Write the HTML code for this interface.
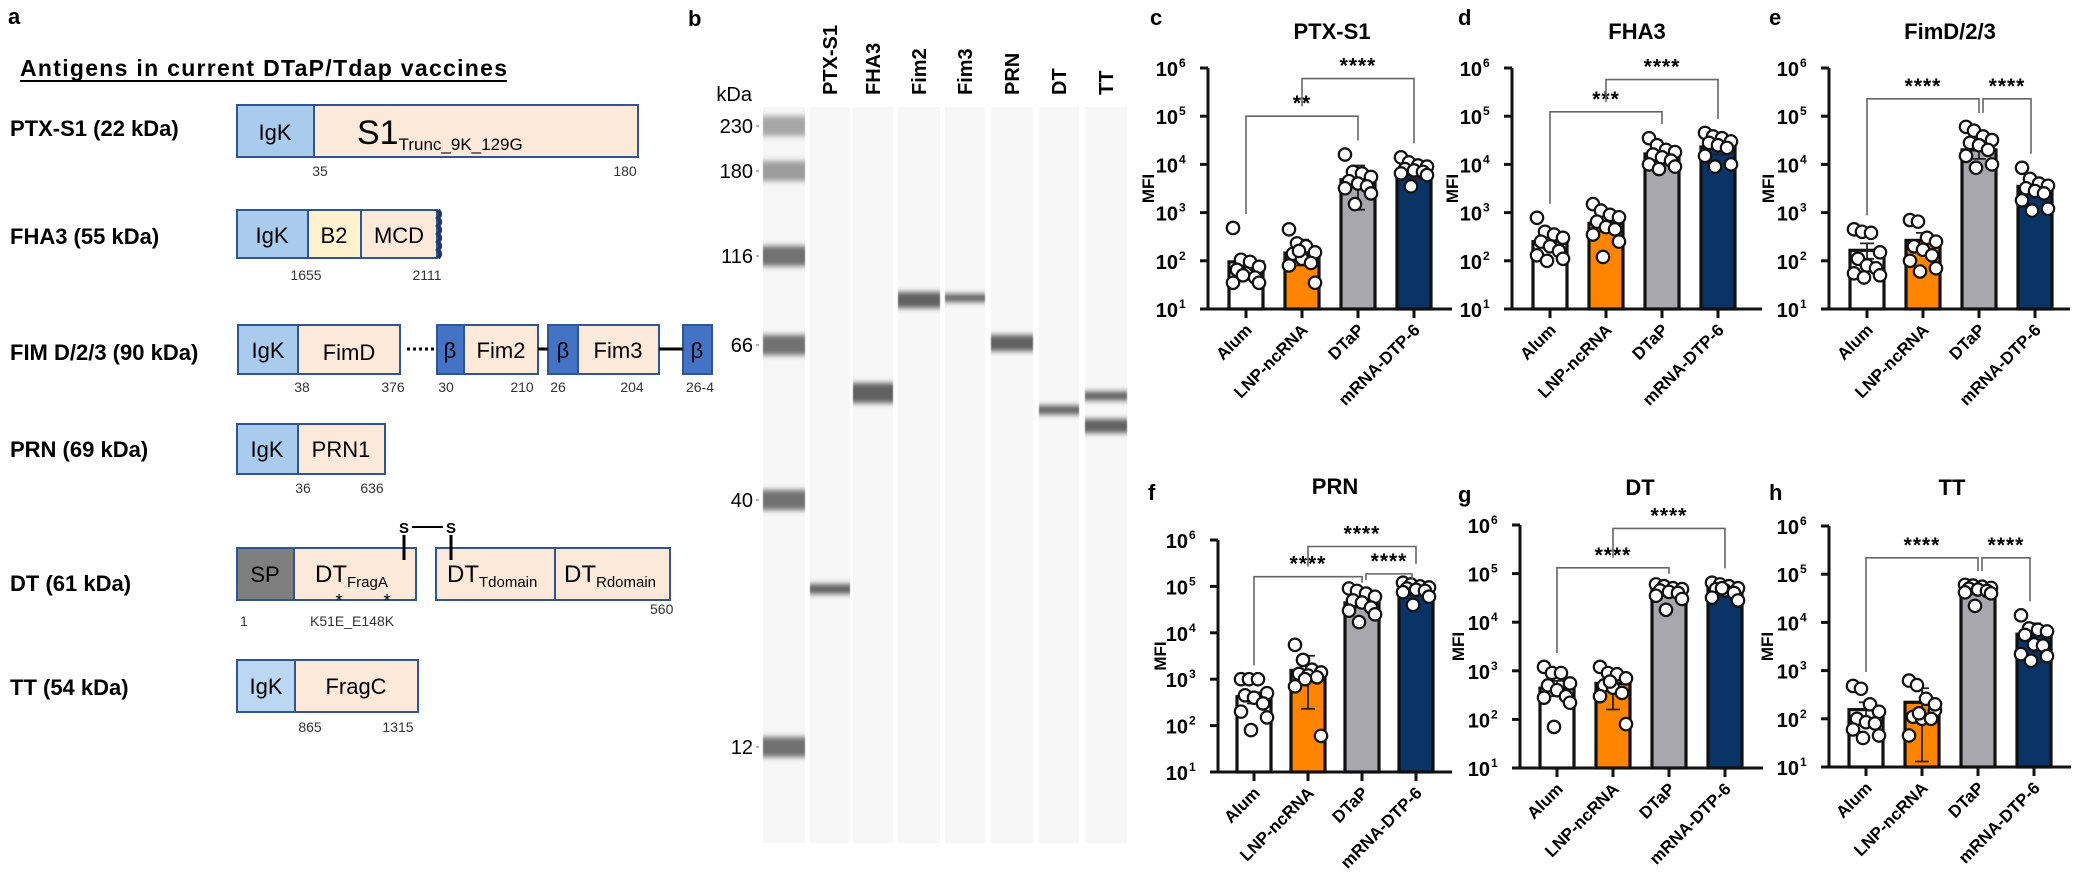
<!DOCTYPE html>
<html><head><meta charset="utf-8">
<style>
html,body{margin:0;padding:0;background:#fff;}
svg{display:block;font-family:"Liberation Sans",Arial,sans-serif;}
</style></head>
<body>
<svg id="fig" width="2075" height="880" viewBox="0 0 2075 880" xmlns="http://www.w3.org/2000/svg">
<defs>
<filter id="blur" x="-10%" y="-100%" width="120%" height="300%"><feGaussianBlur stdDeviation="0.6 2.6"/></filter>
</defs>

<!-- ================= PANEL A ================= -->
<g font-size="22">
<text x="8" y="24" font-weight="bold" font-size="22">a</text>
<text x="20" y="76" font-weight="bold" font-size="23" textLength="487">Antigens in current DTaP/Tdap vaccines</text>
<line x1="20" y1="81" x2="507" y2="81" stroke="#000" stroke-width="2"/>

<text x="10" y="136" font-weight="bold">PTX-S1 (22 kDa)</text>
<text x="10" y="244" font-weight="bold">FHA3 (55 kDa)</text>
<text x="10" y="360" font-weight="bold">FIM D/2/3 (90 kDa)</text>
<text x="10" y="457" font-weight="bold">PRN (69 kDa)</text>
<text x="10" y="591" font-weight="bold">DT (61 kDa)</text>
<text x="10" y="695" font-weight="bold">TT (54 kDa)</text>

<g stroke="#2f5597" stroke-width="2">
<rect x="237" y="105" width="77" height="52" fill="#a9cbee"/>
<rect x="314" y="105" width="324" height="52" fill="#fde9d9"/>
</g>
<text x="275" y="140" text-anchor="middle" font-size="22">IgK</text>
<text x="357" y="144" font-size="34">S1<tspan font-size="17" dy="6">Trunc_9K_129G</tspan></text>
<text x="320" y="176" font-size="14" fill="#333" text-anchor="middle">35</text>
<text x="625" y="176" font-size="14" fill="#333" text-anchor="middle">180</text>

<g stroke="#2f5597" stroke-width="2">
<rect x="237" y="210" width="71" height="48" fill="#a9cbee"/>
<rect x="308" y="210" width="53" height="48" fill="#fff2cc"/>
<rect x="361" y="210" width="76" height="48" fill="#fde9d9"/>
</g>
<path d="M438 210 q4 4 0 8 q4 4 0 8 q4 4 0 8 q4 4 0 8 q4 4 0 8 q4 4 0 8" stroke="#1f3864" stroke-width="4" fill="none"/>
<text x="272" y="243" text-anchor="middle">IgK</text>
<text x="334" y="243" text-anchor="middle">B2</text>
<text x="399" y="243" text-anchor="middle">MCD</text>
<text x="306" y="280" font-size="14" fill="#333" text-anchor="middle">1655</text>
<text x="427" y="280" font-size="14" fill="#333" text-anchor="middle">2111</text>

<g stroke="#2f5597" stroke-width="2">
<rect x="238" y="325" width="60" height="49" fill="#a9cbee"/>
<rect x="298" y="325" width="102" height="49" fill="#fde9d9"/>
<rect x="437" y="325" width="27" height="49" fill="#4472c4"/>
<rect x="464" y="325" width="74" height="49" fill="#fde9d9"/>
<rect x="548" y="325" width="30" height="49" fill="#4472c4"/>
<rect x="578" y="325" width="81" height="49" fill="#fde9d9"/>
<rect x="683" y="325" width="29" height="49" fill="#4472c4"/>
</g>
<line x1="407" y1="349" x2="436" y2="349" stroke="#000" stroke-width="3" stroke-dasharray="3 3"/>
<line x1="538" y1="349" x2="548" y2="349" stroke="#000" stroke-width="3"/>
<line x1="659" y1="349" x2="683" y2="349" stroke="#000" stroke-width="3"/>
<text x="268" y="358" text-anchor="middle">IgK</text>
<text x="349" y="360" text-anchor="middle">FimD</text>
<text x="450" y="358" text-anchor="middle">β</text>
<text x="501" y="358" text-anchor="middle">Fim2</text>
<text x="563" y="358" text-anchor="middle">β</text>
<text x="618" y="358" text-anchor="middle">Fim3</text>
<text x="697" y="358" text-anchor="middle">β</text>
<g font-size="14" fill="#333" text-anchor="middle">
<text x="302" y="392">38</text><text x="393" y="392">376</text><text x="446" y="392">30</text>
<text x="522" y="392">210</text><text x="558" y="392">26</text><text x="632" y="392">204</text><text x="700" y="392">26-4</text>
</g>

<g stroke="#2f5597" stroke-width="2">
<rect x="237" y="424" width="61" height="50" fill="#a9cbee"/>
<rect x="298" y="424" width="87" height="50" fill="#fde9d9"/>
</g>
<text x="267" y="457" text-anchor="middle">IgK</text>
<text x="341" y="457" text-anchor="middle">PRN1</text>
<text x="303" y="493" font-size="14" fill="#333" text-anchor="middle">36</text>
<text x="372" y="493" font-size="14" fill="#333" text-anchor="middle">636</text>

<g stroke="#2f5597" stroke-width="2">
<rect x="237" y="548" width="57" height="52" fill="#7f7f7f"/>
<rect x="294" y="548" width="122" height="52" fill="#fde9d9"/>
<rect x="436" y="548" width="119" height="52" fill="#fde9d9"/>
<rect x="555" y="548" width="115" height="52" fill="#fde9d9"/>
</g>
<text x="265" y="582" text-anchor="middle">SP</text>
<text x="315" y="582" font-size="24">DT<tspan font-size="15" dy="5">FragA</tspan></text>
<text x="447" y="582" font-size="24">DT<tspan font-size="15" dy="5">Tdomain</tspan></text>
<text x="564" y="582" font-size="24">DT<tspan font-size="15" dy="5">Rdomain</tspan></text>
<line x1="404" y1="535" x2="404" y2="560" stroke="#000" stroke-width="3"/>
<line x1="451" y1="535" x2="451" y2="560" stroke="#000" stroke-width="3"/>
<line x1="412" y1="527" x2="443" y2="527" stroke="#000" stroke-width="2"/>
<text x="404" y="533" font-size="15" font-weight="bold" text-anchor="middle">S</text>
<text x="451" y="533" font-size="15" font-weight="bold" text-anchor="middle">S</text>
<text x="339" y="607" font-size="18" text-anchor="middle">*</text>
<text x="387" y="607" font-size="18" text-anchor="middle">*</text>
<text x="240" y="626" font-size="14" fill="#333">1</text>
<text x="310" y="626" font-size="14" fill="#333">K51E_E148K</text>
<text x="650" y="614" font-size="14" fill="#333">560</text>

<g stroke="#2f5597" stroke-width="2">
<rect x="237" y="660" width="58" height="52" fill="#bcd7f2"/>
<rect x="295" y="660" width="123" height="52" fill="#fde9d9"/>
</g>
<text x="266" y="694" text-anchor="middle">IgK</text>
<text x="356" y="694" text-anchor="middle">FragC</text>
<text x="310" y="732" font-size="14" fill="#333" text-anchor="middle">865</text>
<text x="398" y="732" font-size="14" fill="#333" text-anchor="middle">1315</text>
</g>

<!-- ================= PANEL B (gel) ================= -->
<g id="gel">
<text x="688" y="26" font-weight="bold" font-size="22">b</text>
<text x="752" y="101" font-size="20" text-anchor="end">kDa</text>
</g>

<g id="charts"></g>

<script>
// ---------- Gel data ----------
const gelLanes = ["PTX-S1","FHA3","Fim2","Fim3","PRN","DT","TT"];
const ladderKda = ["230","180","116","66","40","12"];
const ladderBandY = [126,171,256,345,500,747];
const ladderBandDark = [0.45,0.5,0.75,0.75,0.75,0.75];
const laneBandY = [[589],[393],[300],[298],[343],[410],[396,426]];
const laneBandH = [[10],[20],[16],[8],[16],[9],[9,14]];

// ---------- Chart data ----------
const groups = ["Alum","LNP-ncRNA","DTaP","mRNA-DTP-6"];

const cMeans = [95,145,4800,7000];
const cErrHi = [110,275,9500,9000];
const cErrLo = [60,80,1150,5000];
const cPoints = [[480,105,95,75,65,55,45,35,35,50],[450,230,200,150,140,110,90,80,35,160],[16000,7000,6500,5500,4500,4000,3500,3200,2500,1500],[14000,11000,9500,9000,8000,7500,7000,6500,6000,3500]];
const cSig = [[0,2,5.0,"**"],[1,3,5.78,"****"]];

const dMeans = [250,600,16500,23000];
const dErrHi = [330,900,26000,30000];
const dErrLo = [180,400,11000,16000];
const dPoints = [[780,400,350,300,250,200,160,130,110,100],[1500,1100,900,800,650,500,450,350,250,120],[35000,25000,20000,18000,16000,14000,12000,10000,9000,8000],[45000,38000,35000,30000,28000,25000,22000,15000,10000,9000]];
const dSig = [[0,2,5.09,"***"],[1,3,5.76,"****"]];

const eMeans = [165,265,20000,3500];
const eErrHi = [230,380,42000,5200];
const eErrLo = [110,160,13000,2400];
const ePoints = [[450,400,380,150,110,80,70,55,50,45],[700,650,300,250,200,170,130,100,70,60],[60000,50000,38000,32000,28000,25000,20000,15000,10000,8500],[8500,5000,4000,3600,3200,2800,2500,1800,1200,1100]];
const eSig = [[0,2,5.36,"****"],[2,3,5.36,"****"]];

const fMeans = [420,1550,44000,80000];
const fErrHi = [520,3200,55000,95000];
const fErrLo = [300,230,35000,65000];
const fPoints = [[1000,1000,1000,500,450,400,300,200,150,80],[5500,2600,1600,1400,1300,1200,1100,700,60,1000],[90000,80000,70000,60000,50000,45000,35000,30000,25000,17000],[120000,110000,100000,95000,90000,85000,80000,75000,60000,40000]];
const fSig = [[0,2,5.21,"****"],[1,3,5.86,"****"],[2,3,5.27,"****"]];

const gMeans = [440,550,55000,60000];
const gErrHi = [620,800,62000,66000];
const gErrLo = [300,160,45000,50000];
const gPoints = [[1200,900,900,550,500,400,300,280,220,70],[1200,900,850,700,500,450,350,300,80,600],[60000,55000,50000,48000,45000,42000,40000,35000,30000,18000],[65000,60000,55000,50000,48000,45000,40000,32000,28000,50000]];
const gSig = [[0,2,5.12,"****"],[1,3,5.93,"****"]];

const hMeans = [155,220,52000,5700];
const hErrHi = [220,430,58000,9600];
const hErrLo = [100,13,45000,1400];
const hPoints = [[480,420,200,140,100,85,80,60,45,40],[620,500,260,150,110,100,100,45,200,130],[60000,58000,55000,52000,50000,48000,45000,42000,40000,22000],[14000,7500,7000,6500,5500,3500,3300,2200,2000,1600]];
const hSig = [[0,2,5.34,"****"],[2,3,5.34,"****"]];

const NS = "http://www.w3.org/2000/svg";
function mk(tag, attrs, parent){
  const e = document.createElementNS(NS, tag);
  for (const k in attrs) e.setAttribute(k, attrs[k]);
  if (parent) parent.appendChild(e);
  return e;
}

// ---------- Gel drawing ----------
(function(){
  const gel = document.getElementById('gel');
  const laneX = [[810,850],[853,893],[898,940],[945,985],[991,1033],[1039,1079],[1085,1127]];
  const lx = [763,805];
  const top = 107, bot = 843;
  const lad = mk('rect',{x:lx[0],y:top,width:lx[1]-lx[0],height:bot-top,fill:'#f6f6f6'},gel);
  
  
  ladderKda.forEach((k,i)=>{
    const y = ladderBandY[i];
    const b = mk('rect',{x:lx[0],y:y-10,width:lx[1]-lx[0],height:20,fill:'#444','fill-opacity':ladderBandDark[i],filter:'url(#blur)'},gel);
    
    
    const t = mk('text',{x:753,y:y+7,'font-size':20,'text-anchor':'end'},gel);
    t.textContent = k;
    
    
    mk('line',{x1:756,y1:y,x2:759,y2:y,stroke:'#666','stroke-width':1},gel);
  });
  gelLanes.forEach((name,i)=>{
    const [x0,x1] = laneX[i];
    const r = mk('rect',{x:x0,y:top,width:x1-x0,height:bot-top,fill:'#f7f7f7'},gel);
    
    
    laneBandY[i].forEach((y,j)=>{
      const h = laneBandH[i][j];
      const b = mk('rect',{x:x0,y:y-h/2,width:x1-x0,height:h,fill:'#3c3c3c','fill-opacity':0.8,filter:'url(#blur)'},gel);
      
      
    });
    const cx = (x0+x1)/2;
    const t = mk('text',{x:0,y:0,'font-size':20,'font-weight':'bold',transform:'translate('+(cx+7)+',95) rotate(-90)'},gel);
    t.textContent = name;
    
    
  });
})();

// ---------- Charts ----------
const fills = ['#ffffff','#ff8400','#a7a7ad','#0a3366'];
const JIT = [-13,-5,4,13,-9,0,9,-13,13,-3];

function drawChart(cfg, means, errHi, errLo, points, sig){
  const root = document.getElementById('charts');
  const g = mk('g',{},root);
  
  
  const yScale = v => cfg.y6 + (6 - Math.log10(v)) * (cfg.y1 - cfg.y6) / 5;
  const yLog = l => cfg.y6 + (6 - l) * (cfg.y1 - cfg.y6) / 5;
  const xScale = i => cfg.x0 + cfg.dx * i;
  const bw = 34;

  const lab = mk('text',{x:cfg.lx,y:cfg.ly,'font-size':22,'font-weight':'bold'},g);
  lab.textContent = cfg.id;
  
  
  const tt = mk('text',{x:cfg.tx,y:cfg.ty,'font-size':22,'font-weight':'bold','text-anchor':'middle'},g);
  tt.textContent = cfg.title;
  
  
  const mfi = mk('text',{x:0,y:0,'font-size':17,'font-weight':'bold','text-anchor':'middle',transform:'translate('+(cfg.mx+6)+','+((cfg.y6+cfg.y1)/2)+') rotate(-90)'},g);
  mfi.textContent = 'MFI';
  
  

  groups.forEach((grp,i)=>{
    const cx = xScale(i), yt = yScale(means[i]);
    const b = mk('rect',{x:cx-bw/2,y:yt,width:bw,height:cfg.y1-yt,fill:fills[i],stroke:'#111','stroke-width':3.2},g);
    
    
    const eh = yScale(errHi[i]), el = yScale(Math.max(errLo[i],10.5));
    const e = mk('path',{d:'M'+cx+' '+eh+'V'+el+'M'+(cx-7)+' '+eh+'H'+(cx+7)+'M'+(cx-7)+' '+el+'H'+(cx+7),stroke:'#222','stroke-width':1.8,fill:'none'},g);
    
    
  });
  groups.forEach((grp,i)=>{
    points[i].forEach((v,j)=>{
      const c = mk('circle',{cx:xScale(i)+JIT[j%JIT.length],cy:yScale(v),r:6.2,fill:'#fff',stroke:'#111','stroke-width':2.2},g);
      
      
    });
  });
  const ya = mk('line',{x1:cfg.ax,y1:cfg.y6,x2:cfg.ax,y2:cfg.y1+1.5,stroke:'#111','stroke-width':3},g);
  
  
  const xa = mk('line',{x1:cfg.ax-1.5,y1:cfg.y1,x2:cfg.xEnd,y2:cfg.y1,stroke:'#111','stroke-width':3},g);
  
  
  for (let p=1;p<=6;p++){
    const y = yLog(p);
    mk('line',{x1:cfg.ax-8,y1:y,x2:cfg.ax,y2:y,stroke:'#111','stroke-width':3},g);
    const t = mk('text',{x:cfg.ax-30,y:y+8,'font-size':20,'font-weight':'bold','text-anchor':'end'},g);
    t.textContent = '10';
    
    
    const s = mk('text',{x:cfg.ax-29,y:y-1,'font-size':12,'font-weight':'bold'},g);
    s.textContent = String(p);
  }
  groups.forEach((grp,i)=>{
    const cx = xScale(i);
    mk('line',{x1:cx,y1:cfg.y1,x2:cx,y2:cfg.y1+9,stroke:'#111','stroke-width':3},g);
    const t = mk('text',{x:0,y:0,'font-size':17,'font-weight':'bold','text-anchor':'end',transform:'translate('+(cx+7)+','+(cfg.y1+22)+') rotate(-45)'},g);
    t.textContent = grp;
    
    
  });
  // significance brackets: drops stop above any lower bracket crossing beneath
  sig.forEach(s=>{
    const [a,b,lev,lbl] = s;
    const yl = yLog(lev);
    const dropEnd = (idx) => {
      let y = yScale(Math.max(...points[idx], errHi[idx])) - 14;
      sig.forEach(o=>{
        if (o === s) return;
        if (o[2] < lev && o[0] < idx && o[1] > idx) y = Math.min(y, yLog(o[2]) - 10);
        if (o[2] < lev && (o[0] === idx || o[1] === idx)) y = Math.min(y, yLog(o[2]) - 10);
      });
      return Math.max(y, yl + 6);
    };
    const adj = (b-a===1);
    const xa2 = xScale(a) + (adj ? 4 : 0), xb2 = xScale(b) - (adj ? 4 : 0);
    const ya2 = dropEnd(a), yb2 = dropEnd(b);
    const p = mk('path',{d:'M'+xa2+' '+ya2+'V'+yl+'H'+xb2+'V'+yb2,stroke:'#666','stroke-width':1.6,fill:'none'},g);
    
    
    const t = mk('text',{x:(xa2+xb2)/2,y:yl-6,'font-size':21,'font-weight':'bold','text-anchor':'middle','letter-spacing':'1'},g);
    t.textContent = lbl;
    
    
  });
}

drawChart({id:'c',title:'PTX-S1',ax:1208,x0:1246,dx:56,y6:68,y1:309,xEnd:1452,tx:1332,ty:39,lx:1150,ly:25,mx:1148},cMeans,cErrHi,cErrLo,cPoints,cSig);
drawChart({id:'d',title:'FHA3',ax:1512,x0:1550,dx:56,y6:68,y1:309,xEnd:1762,tx:1637,ty:39,lx:1458,ly:25,mx:1452},dMeans,dErrHi,dErrLo,dPoints,dSig);
drawChart({id:'e',title:'FimD/2/3',ax:1829,x0:1867,dx:56,y6:68,y1:309,xEnd:2070,tx:1950,ty:39,lx:1769,ly:25,mx:1768},eMeans,eErrHi,eErrLo,ePoints,eSig);
drawChart({id:'f',title:'PRN',ax:1218,x0:1254,dx:54,y6:540,y1:772,xEnd:1452,tx:1335,ty:494,lx:1148,ly:500,mx:1160},fMeans,fErrHi,fErrLo,fPoints,fSig);
drawChart({id:'g',title:'DT',ax:1520,x0:1557,dx:56,y6:525,y1:768,xEnd:1763,tx:1640,ty:495,lx:1458,ly:502,mx:1458},gMeans,gErrHi,gErrLo,gPoints,gSig);
drawChart({id:'h',title:'TT',ax:1829,x0:1866,dx:56,y6:526,y1:767,xEnd:2071,tx:1952,ty:495,lx:1769,ly:500,mx:1767},hMeans,hErrHi,hErrLo,hPoints,hSig);
</script>
</svg>
</body></html>
